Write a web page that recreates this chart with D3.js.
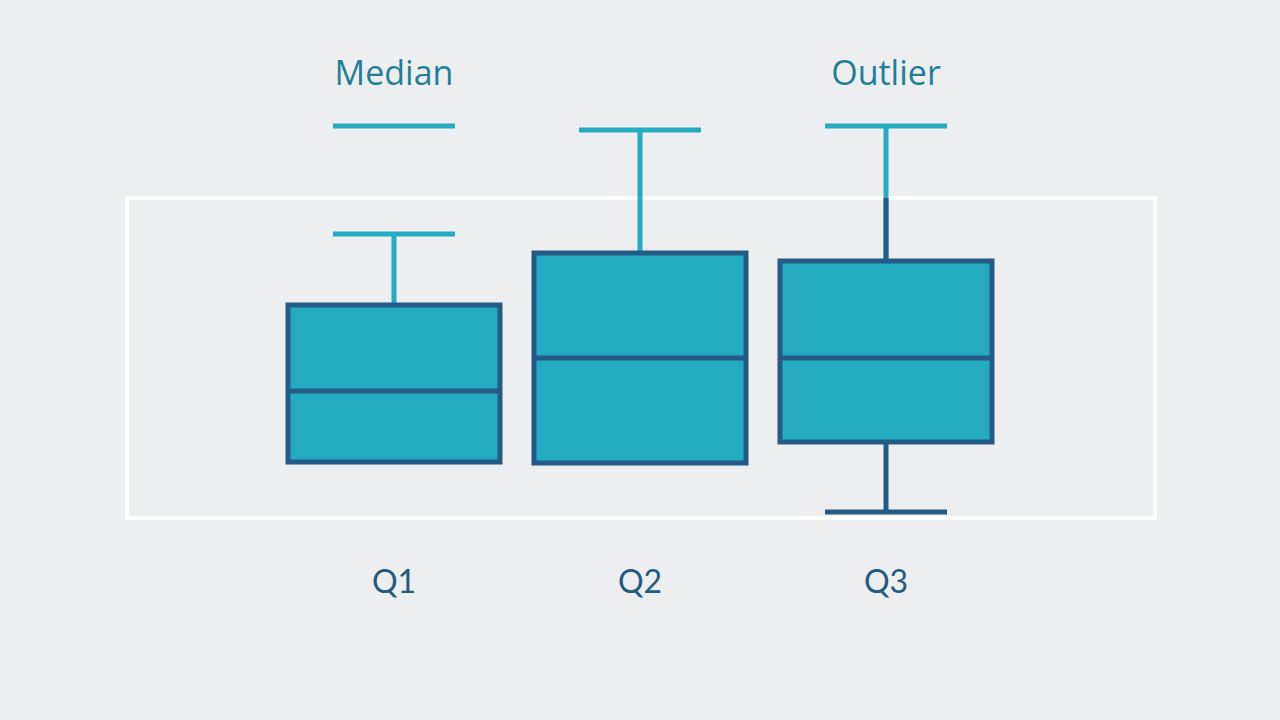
<!DOCTYPE html>
<html>
<head>
<meta charset="utf-8">
<script src="https://cdn.jsdelivr.net/npm/d3@7"></script>
<style>
  html, body { margin: 0; padding: 0; background: #eceef0; }
  svg { display: block; }
</style>
</head>
<body>
<svg width="1280" height="720"></svg>
<script>
// box plot data
var categories = ["Q1", "Q2", "Q3"];
var whiskerHigh = [7.15, 9.75, 9.85];
var boxHigh     = [5.375, 6.675, 6.475];
var medians     = [3.225, 4.05, 4.05];
var boxLow      = [1.45, 1.425, 1.95];
var whiskerLow  = [1.45, 1.425, 0.2];

// floating annotations above the boxes
var noteLabels = ["Median", "Outlier"];
var noteCats   = ["Q1", "Q3"];
var medianMark = { cat: "Q1", value: 9.85 };

var svg = d3.select("svg"),
    teal = "#24abc1",
    navy = "#245a86",
    boxW = 212,
    capW = 122;

var x = d3.scalePoint()
    .domain(categories)
    .range([394, 886]);

var y = d3.scaleLinear()
    .domain([0, 10])
    .range([520, 120]);

var data = categories.map(function(c, i) {
  return { cat: c, hi: whiskerHigh[i], q3: boxHigh[i], med: medians[i], q1: boxLow[i], lo: whiskerLow[i] };
});

// plot frame
svg.append("rect")
    .attr("x", 127).attr("y", 198)
    .attr("width", 1028).attr("height", 320)
    .attr("fill", "none")
    .attr("stroke", "#ffffff")
    .attr("stroke-width", 4);

var g = svg.selectAll(".box")
  .data(data)
  .enter().append("g")
    .attr("class", "box");

// upper whiskers
g.append("line")
    .attr("x1", function(d) { return x(d.cat); })
    .attr("x2", function(d) { return x(d.cat); })
    .attr("y1", function(d) { return y(d.hi); })
    .attr("y2", function(d) { return y(d.q3); })
    .attr("stroke", teal)
    .attr("stroke-width", 5);

// Q3 whisker turns dark inside the frame
g.filter(function(d) { return d.cat === "Q3"; })
  .append("line")
    .attr("x1", function(d) { return x(d.cat); })
    .attr("x2", function(d) { return x(d.cat); })
    .attr("y1", 198)
    .attr("y2", function(d) { return y(d.q3); })
    .attr("stroke", navy)
    .attr("stroke-width", 5);

g.append("line")
    .attr("x1", function(d) { return x(d.cat) - capW / 2; })
    .attr("x2", function(d) { return x(d.cat) + capW / 2; })
    .attr("y1", function(d) { return y(d.hi); })
    .attr("y2", function(d) { return y(d.hi); })
    .attr("stroke", teal)
    .attr("stroke-width", 5);

// lower whiskers (only where they extend past the box)
var low = g.filter(function(d) { return d.lo < d.q1; });
low.append("line")
    .attr("x1", function(d) { return x(d.cat); })
    .attr("x2", function(d) { return x(d.cat); })
    .attr("y1", function(d) { return y(d.q1); })
    .attr("y2", function(d) { return y(d.lo); })
    .attr("stroke", navy)
    .attr("stroke-width", 5);
low.append("line")
    .attr("x1", function(d) { return x(d.cat) - capW / 2; })
    .attr("x2", function(d) { return x(d.cat) + capW / 2; })
    .attr("y1", function(d) { return y(d.lo); })
    .attr("y2", function(d) { return y(d.lo); })
    .attr("stroke", navy)
    .attr("stroke-width", 5);

// boxes
g.append("rect")
    .attr("x", function(d) { return x(d.cat) - boxW / 2; })
    .attr("y", function(d) { return y(d.q3); })
    .attr("width", boxW)
    .attr("height", function(d) { return y(d.q1) - y(d.q3); })
    .attr("fill", teal)
    .attr("stroke", navy)
    .attr("stroke-width", 5);

g.append("line")
    .attr("x1", function(d) { return x(d.cat) - boxW / 2; })
    .attr("x2", function(d) { return x(d.cat) + boxW / 2; })
    .attr("y1", function(d) { return y(d.med); })
    .attr("y2", function(d) { return y(d.med); })
    .attr("stroke", navy)
    .attr("stroke-width", 5);

// floating median marker
svg.append("line")
    .attr("x1", x(medianMark.cat) - capW / 2)
    .attr("x2", x(medianMark.cat) + capW / 2)
    .attr("y1", y(medianMark.value))
    .attr("y2", y(medianMark.value))
    .attr("stroke", teal)
    .attr("stroke-width", 5);

// top annotations
svg.selectAll(".note")
  .data(noteLabels)
  .enter().append("text")
    .attr("class", "note")
    .attr("x", function(d, i) { return x(noteCats[i]); })
    .attr("y", 85)
    .attr("text-anchor", "middle")
    .attr("font-family", "'Open Sans', sans-serif")
    .attr("font-size", 34)
    .attr("fill", "#1f7f99")
    .text(function(d) { return d; });

// category labels
svg.selectAll(".cat")
  .data(categories)
  .enter().append("text")
    .attr("class", "cat")
    .attr("x", function(d) { return x(d); })
    .attr("y", 593)
    .attr("text-anchor", "middle")
    .attr("font-family", "Lato, sans-serif")
    .attr("font-size", 32)
    .attr("fill", "#245a80")
    .text(function(d) { return d; });
</script>
</body>
</html>
